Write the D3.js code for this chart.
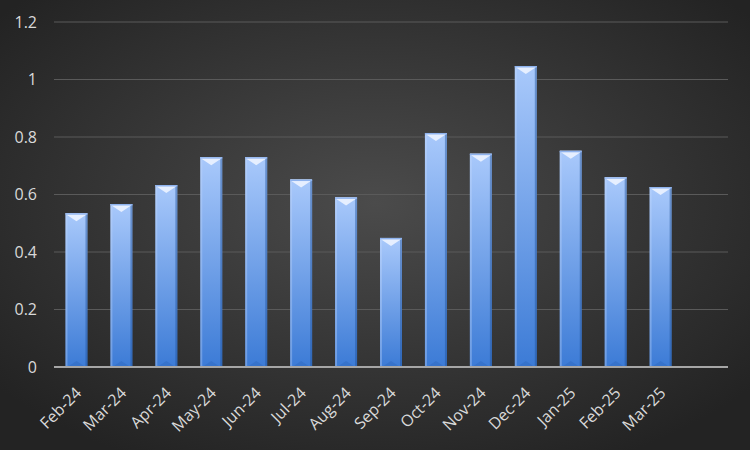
<!DOCTYPE html>
<html><head><meta charset="utf-8">
<script src="https://cdn.jsdelivr.net/npm/d3@7"></script>
<style>html,body{margin:0;padding:0;background:#2a2a2a;}svg{display:block;}</style>
</head><body>
<script>
const categories = ["Feb-24","Mar-24","Apr-24","May-24","Jun-24","Jul-24","Aug-24","Sep-24","Oct-24","Nov-24","Dec-24","Jan-25","Feb-25","Mar-25",""];
const values = [0.535,0.567,0.633,0.73,0.73,0.652,0.59,0.449,0.814,0.742,1.047,0.752,0.66,0.626,null];
const yTicks = [0,0.2,0.4,0.6,0.8,1,1.2];

const W=750,H=450;
const m={left:54,right:22,top:22,bottom:83};
const svg=d3.select("body").append("svg").attr("width",W).attr("height",H);
const defs=svg.append("defs");
const bg=defs.append("radialGradient").attr("id","bg").attr("cx","50%").attr("cy","45%").attr("r","65%");
bg.append("stop").attr("offset","0%").attr("stop-color","#4b4b4b");
bg.append("stop").attr("offset","100%").attr("stop-color","#232323");
svg.append("rect").attr("width",W).attr("height",H).attr("fill","url(#bg)");

const bg2=defs.append("linearGradient").attr("id","barg").attr("x1",0).attr("y1",0).attr("x2",0).attr("y2",1);
bg2.append("stop").attr("offset","0%").attr("stop-color","#a9c9fb");
bg2.append("stop").attr("offset","100%").attr("stop-color","#3c7bd6");

const x=d3.scaleBand().domain(categories.map((c,i)=>i)).range([m.left,W-m.right]).paddingInner(0.51).paddingOuter(0.255);
const y=d3.scaleLinear().domain([0,1.2]).range([H-m.bottom,m.top]);

// gridlines
svg.append("g").selectAll("line").data(yTicks.slice(1)).join("line")
 .attr("x1",m.left).attr("x2",W-m.right).attr("y1",d=>y(d)).attr("y2",d=>y(d))
 .attr("stroke","#5a5a5a").attr("stroke-width",1);

// y labels
const yAxis=d3.axisLeft(y).tickValues(yTicks).tickFormat(d=>String(d)).tickSize(0).tickPadding(17);
const ga=svg.append("g").attr("transform",`translate(${m.left},0)`).call(yAxis);
ga.select(".domain").remove();
ga.selectAll("text").attr("fill","#d9d9d9").style("font-family","'Open Sans',sans-serif").style("font-size","16px");

// bars
const data=values.map((v,i)=>({i,v})).filter(d=>d.v!=null);
const bw=x.bandwidth();
const g=svg.append("g");
const bars=g.selectAll("g").data(data).join("g").attr("transform",d=>`translate(${x(d.i)},0)`);
bars.append("rect").attr("x",0).attr("y",d=>y(d.v)).attr("width",bw).attr("height",d=>y(0)-y(d.v)).attr("fill","url(#barg)");
bars.append("rect").attr("x",0).attr("y",d=>y(d.v)).attr("width",2).attr("height",d=>y(0)-y(d.v)).attr("fill","#c6dafc").attr("opacity",0.35);
bars.append("rect").attr("x",bw-2).attr("y",d=>y(d.v)).attr("width",2).attr("height",d=>y(0)-y(d.v)).attr("fill","#1f4f96").attr("opacity",0.45);
bars.append("path").attr("d",d=>{const t=y(d.v);return `M0,${t}L${bw},${t}L${bw-2},${t+2}L${bw/2},${t+8}L2,${t+2}Z`;})
 .attr("fill","#e6efff");
bars.append("path").attr("d",d=>{const t=y(d.v);return `M0,${t}L${bw},${t}L${bw},${t+1.5}L0,${t+1.5}Z`;})
 .attr("fill","#8fb3ee");
bars.append("path").attr("d",d=>{const b=y(0);return `M2,${b}L${bw/2},${b-6}L${bw-2},${b}Z`;})
 .attr("fill","#2f69c0").attr("opacity",0.5);

// zero line
svg.append("line").attr("x1",m.left).attr("x2",W-m.right).attr("y1",y(0)).attr("y2",y(0))
 .attr("stroke","#a6a6a6").attr("stroke-width",2);

// x labels
const xAxis=d3.axisBottom(x).tickFormat(i=>categories[i]).tickSize(0);
const gx=svg.append("g").attr("transform",`translate(0,${y(0)})`).call(xAxis);
gx.select(".domain").remove();
gx.selectAll("text").attr("fill","#d9d9d9").style("font-family","'Open Sans',sans-serif").style("font-size","16px")
 .attr("text-anchor","end").attr("dy",null).attr("y",0)
 .attr("transform","translate(3,24) rotate(-45)").attr("dominant-baseline","middle");
</script>
</body></html>
